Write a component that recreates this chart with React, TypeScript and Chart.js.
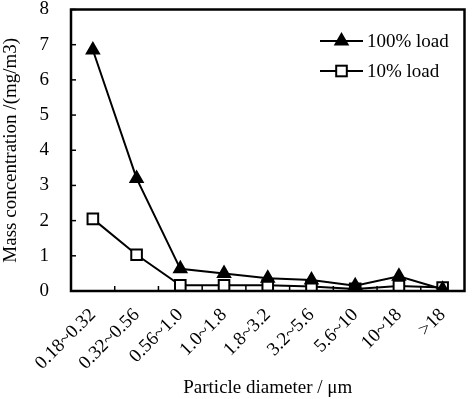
import React, { useEffect, useRef } from "react";
import { Chart, registerables } from "chart.js";

Chart.register(...registerables);

const categories = ["0.18~0.32", "0.32~0.56", "0.56~1.0", "1.0~1.8", "1.8~3.2", "3.2~5.6", "5.6~10", "10~18", ">18"];
const load100 = [6.85, 3.2, 0.63, 0.5, 0.36, 0.31, 0.15, 0.42, 0.05];
const load10 = [2.05, 1.03, 0.16, 0.16, 0.16, 0.13, 0.06, 0.14, 0.1];
const seriesLabels = ["100% load", "10% load"];
const yTitle = "Mass concentration /(mg/m3)";
const xTitle = "Particle diameter / μm";

const FONT = "'Liberation Serif', 'Times New Roman', serif";

function drawMarker(ctx: CanvasRenderingContext2D, style: string, x: number, y: number, r: number) {
  ctx.save();
  ctx.lineWidth = 2;
  ctx.strokeStyle = "#000";
  if (style === "triangle") {
    ctx.fillStyle = "#000";
    ctx.beginPath();
    ctx.moveTo(x, y - r);
    ctx.lineTo(x + r * 0.866, y + r * 0.5);
    ctx.lineTo(x - r * 0.866, y + r * 0.5);
    ctx.closePath();
    ctx.fill();
    ctx.stroke();
  } else {
    const s = r * Math.SQRT1_2;
    ctx.fillStyle = "#fff";
    ctx.fillRect(x - s, y - s, 2 * s, 2 * s);
    ctx.strokeRect(x - s, y - s, 2 * s, 2 * s);
  }
  ctx.restore();
}

const framePlugin = {
  id: "frameTicks",
  afterDatasetsDraw(chart: any) {
    const { ctx, chartArea, scales } = chart;
    const { left, right, top, bottom } = chartArea;
    ctx.save();
    ctx.strokeStyle = "#000";
    ctx.lineWidth = 1.5;
    const ys = scales.y;
    ys.ticks.forEach((t: any) => {
      const py = ys.getPixelForValue(t.value);
      ctx.beginPath();
      ctx.moveTo(left, py);
      ctx.lineTo(left + 5, py);
      ctx.stroke();
    });
    const xs = scales.x;
    for (let i = 0; i < categories.length - 1; i++) {
      const px = (xs.getPixelForValue(i) + xs.getPixelForValue(i + 1)) / 2;
      ctx.beginPath();
      ctx.moveTo(px, bottom);
      ctx.lineTo(px, bottom - 5);
      ctx.stroke();
    }
    ctx.lineWidth = 2.5;
    ctx.strokeRect(left, top, right - left, bottom - top);
    ctx.restore();
  },
  afterDraw(chart: any) {
    const { ctx } = chart;
    const rows = [
      { y: 41, style: "triangle", r: 7 },
      { y: 71, style: "rect", r: 7.5 },
    ];
    ctx.save();
    chart.data.datasets.forEach((ds: any, i: number) => {
      const row = rows[i];
      ctx.strokeStyle = "#000";
      ctx.lineWidth = 2;
      ctx.beginPath();
      ctx.moveTo(320, row.y);
      ctx.lineTo(363, row.y);
      ctx.stroke();
      drawMarker(ctx, row.style, 341.5, row.y, row.r);
      ctx.fillStyle = "#000";
      ctx.font = `19px ${FONT}`;
      ctx.textBaseline = "middle";
      ctx.textAlign = "left";
      ctx.fillText(ds.label, 367, row.y + 1);
    });
    ctx.restore();
  },
};

export default function App() {
  const ref = useRef<HTMLCanvasElement | null>(null);
  useEffect(() => {
    document.body.style.margin = "0";
    const canvas = ref.current!;
    const chart = new Chart(canvas, {
      type: "line",
      data: {
        labels: categories,
        datasets: [
          {
            label: seriesLabels[0],
            data: load100,
            borderColor: "#000",
            backgroundColor: "#000",
            borderWidth: 2,
            pointStyle: "triangle",
            pointRadius: 7,
            pointBorderWidth: 2,
            pointBackgroundColor: "#000",
            pointBorderColor: "#000",
            tension: 0,
          },
          {
            label: seriesLabels[1],
            data: load10,
            borderColor: "#000",
            backgroundColor: "#fff",
            borderWidth: 2,
            pointStyle: "rect",
            pointRadius: 7.5,
            pointBorderWidth: 2,
            pointBackgroundColor: "#fff",
            pointBorderColor: "#000",
            tension: 0,
          },
        ],
      },
      options: {
        responsive: false,
        animation: false,
        devicePixelRatio: 1,
        layout: { padding: { top: 7, right: 3, left: 0, bottom: 0 } },
        plugins: { legend: { display: false }, tooltip: { enabled: false } },
        scales: {
          x: {
            type: "category",
            offset: true,
            grid: { display: false, drawTicks: false },
            border: { display: false },
            ticks: {
              color: "#000",
              font: { family: FONT, size: 19 },
              minRotation: 45,
              maxRotation: 45,
              autoSkip: false,
              padding: 13,
            },
            title: {
              display: true,
              text: xTitle,
              color: "#000",
              font: { family: FONT, size: 19 },
              padding: { top: 0, bottom: 0 },
            },
            afterFit: (scale: any) => {
              scale.height = 108;
              scale.paddingLeft = 0;
              scale.paddingRight = 0;
              scale.paddingTop = 0;
              scale.paddingBottom = 0;
            },
          },
          y: {
            min: 0,
            max: 8,
            grid: { display: false, drawTicks: false },
            border: { display: false },
            ticks: {
              stepSize: 1,
              color: "#000",
              font: { family: FONT, size: 19 },
              padding: 22,
            },
            title: {
              display: true,
              text: yTitle,
              color: "#000",
              font: { family: FONT, size: 19 },
              padding: { top: 0, bottom: 0 },
            },
            afterFit: (scale: any) => {
              scale.width = 71;
              scale.paddingLeft = 0;
              scale.paddingRight = 0;
              scale.paddingTop = 0;
              scale.paddingBottom = 0;
            },
          },
        },
      },
      plugins: [framePlugin],
    });
    return () => chart.destroy();
  }, []);
  return (
    <div style={{ width: 474, height: 399 }}>
      <canvas ref={ref} width={474} height={399} style={{ display: "block" }} />
    </div>
  );
}
